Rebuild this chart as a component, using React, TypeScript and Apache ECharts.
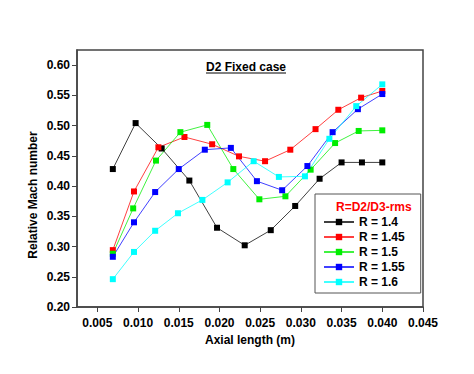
import React, { useEffect, useRef } from "react";
import * as echarts from "echarts";

const seriesNames = ["R = 1.4", "R = 1.45", "R = 1.5", "R = 1.55", "R = 1.6"];
const seriesColors = ["#000000", "#ff0000", "#00ee00", "#0000ff", "#00ffff"];

const xR140 = [0.0069, 0.0097, 0.0129, 0.0163, 0.0197, 0.0231, 0.0263, 0.0293, 0.0323, 0.035, 0.0375, 0.04];
const yR140 = [0.428, 0.504, 0.462, 0.409, 0.331, 0.302, 0.327, 0.367, 0.412, 0.439, 0.439, 0.439];

const xR145 = [0.0069, 0.0095, 0.0125, 0.0157, 0.0191, 0.0224, 0.0256, 0.0287, 0.0318, 0.0346, 0.0374, 0.04];
const yR145 = [0.294, 0.391, 0.464, 0.481, 0.469, 0.449, 0.441, 0.46, 0.494, 0.526, 0.546, 0.557];

const xR150 = [0.0069, 0.0094, 0.0122, 0.0152, 0.0185, 0.0217, 0.0249, 0.0281, 0.0312, 0.0342, 0.0371, 0.04];
const yR150 = [0.288, 0.363, 0.442, 0.489, 0.501, 0.428, 0.378, 0.383, 0.427, 0.471, 0.491, 0.492];

const xR155 = [0.0069, 0.0095, 0.0121, 0.015, 0.0182, 0.0214, 0.0246, 0.0277, 0.0308, 0.0339, 0.037, 0.04];
const yR155 = [0.283, 0.34, 0.39, 0.428, 0.46, 0.463, 0.408, 0.393, 0.433, 0.489, 0.527, 0.552];

const xR160 = [0.0069, 0.0095, 0.0121, 0.0149, 0.0179, 0.021, 0.0242, 0.0273, 0.0305, 0.0335, 0.0368, 0.04];
const yR160 = [0.246, 0.291, 0.326, 0.355, 0.377, 0.406, 0.441, 0.415, 0.416, 0.478, 0.532, 0.568];

const xTicks = [0.005, 0.01, 0.015, 0.02, 0.025, 0.03, 0.035, 0.04, 0.045];
const yTicks = [0.2, 0.25, 0.3, 0.35, 0.4, 0.45, 0.5, 0.55, 0.6];

const xs = [xR140, xR145, xR150, xR155, xR160];
const ys = [yR140, yR145, yR150, yR155, yR160];

const FONT = "'Liberation Sans', Arial, sans-serif";

export default function App() {
  const ref = useRef<HTMLDivElement>(null);
  useEffect(() => {
    if (!ref.current) return;
    const chart = echarts.init(ref.current, null, { renderer: "svg" });
    const series = seriesNames.map((name, i) => ({
      name,
      type: "line",
      data: xs[i].map((x, j) => [x, ys[i][j]]),
      symbol: "rect",
      symbolSize: 6,
      showAllSymbol: true,
      itemStyle: { color: seriesColors[i] },
      lineStyle: { color: seriesColors[i], width: 1, opacity: 0.75 },
      emphasis: { disabled: true },
    }));
    chart.setOption({
      animation: false,
      backgroundColor: "#ffffff",
      textStyle: { fontFamily: FONT },
      grid: {
        left: 77,
        top: 50,
        right: 51,
        bottom: 67,
        show: true,
        borderColor: "#444",
        borderWidth: 1.5,
        backgroundColor: "transparent",
      },
      xAxis: {
        type: "value",
        min: 0.0025,
        max: 0.045,
        name: "Axial length (m)",
        nameLocation: "middle",
        nameGap: 26,
        nameTextStyle: { fontFamily: FONT, fontWeight: "bold", fontSize: 12, color: "#000" },
        axisLine: { show: true, lineStyle: { color: "#444", width: 1.5 } },
        axisTick: { show: true, inside: false, length: 5, customValues: xTicks, lineStyle: { color: "#444" } },
        axisLabel: {
          customValues: xTicks,
          margin: 10,
          fontFamily: FONT,
          fontWeight: "bold",
          fontSize: 12,
          color: "#000",
          formatter: (v: number) => v.toFixed(3),
        },
        splitLine: { show: false },
      },
      yAxis: {
        type: "value",
        min: 0.2,
        max: 0.6248,
        axisLine: { show: true, lineStyle: { color: "#444", width: 1.5 } },
        axisTick: { show: true, inside: false, length: 5, customValues: yTicks, lineStyle: { color: "#444" } },
        axisLabel: {
          customValues: yTicks,
          margin: 7,
          fontFamily: FONT,
          fontWeight: "bold",
          fontSize: 12,
          color: "#000",
          formatter: (v: number) => v.toFixed(2),
        },
        splitLine: { show: false },
      },
      legend: {
        show: true,
        orient: "vertical",
        left: 315,
        top: 194,
        itemWidth: 30,
        itemHeight: 8,
        itemGap: 1,
        padding: [21, 16, 4, 8],
        borderColor: "#555",
        borderWidth: 1,
        backgroundColor: "#fff",
        textStyle: { fontFamily: FONT, fontWeight: "bold", fontSize: 12, color: "#000", lineHeight: 14 },
        data: seriesNames,
        selectedMode: false,
      },
      graphic: [
        {
          type: "text",
          left: 336,
          top: 201,
          style: { text: "R=D2/D3-rms", fill: "#ff0000", font: `bold 12px ${FONT}` },
          z: 100,
        },
        {
          type: "text",
          x: 246,
          y: 67,
          style: { text: "D2 Fixed case", fill: "#000", font: `bold 12px ${FONT}`, textAlign: "center", textVerticalAlign: "middle" },
        },
        {
          type: "line",
          shape: { x1: 206, y1: 73, x2: 286, y2: 73 },
          style: { stroke: "#000", lineWidth: 1 },
        },
        {
          type: "text",
          x: 33,
          y: 195,
          rotation: Math.PI / 2,
          style: { text: "Relative Mach number", fill: "#000", font: `bold 12px ${FONT}`, textAlign: "center", textVerticalAlign: "middle" },
        },
      ],
      series,
    });
    return () => chart.dispose();
  }, []);
  return <div ref={ref} style={{ position: "fixed", left: 0, top: 0, width: 474, height: 374 }} />;
}
